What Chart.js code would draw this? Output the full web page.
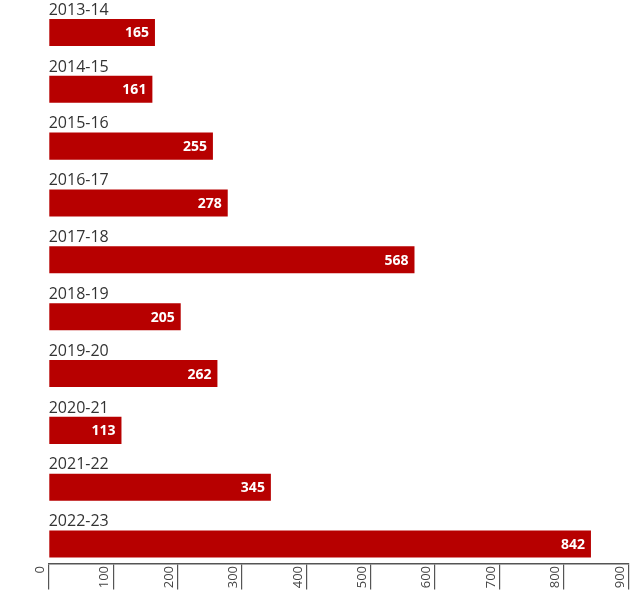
<!DOCTYPE html>
<html>
<head>
<meta charset="utf-8">
<script src="https://cdn.jsdelivr.net/npm/chart.js@4"></script>
<style>
  html, body { margin: 0; padding: 0; background: #ffffff; }
  #wrap { width: 640px; height: 598px; position: relative; }
</style>
</head>
<body>
<div id="wrap"><canvas id="c"></canvas></div>
<script>
const categories = ['2013-14', '2014-15', '2015-16', '2016-17', '2017-18', '2018-19', '2019-20', '2020-21', '2021-22', '2022-23'];
const values = [165, 161, 255, 278, 568, 205, 262, 113, 345, 842];
const xTickMin = 0;
const xTickMax = 900;
const xTickStep = 100;

const valueLabels = {
  id: 'valueLabels',
  afterDatasetsDraw(chart) {
    const ctx = chart.ctx;
    const meta = chart.getDatasetMeta(0);
    ctx.save();
    ctx.font = 'bold 14px "Open Sans", sans-serif';
    ctx.fillStyle = '#ffffff';
    ctx.textAlign = 'right';
    ctx.textBaseline = 'middle';
    meta.data.forEach((bar, i) => {
      ctx.fillText(String(values[i]), bar.x - 6, bar.y + 1);
    });
    ctx.restore();
  }
};

new Chart(document.getElementById('c'), {
  type: 'bar',
  data: {
    labels: categories,
    datasets: [{
      data: values,
      backgroundColor: '#b70000',
      borderWidth: 0,
      barPercentage: 0.475,
      categoryPercentage: 1
    }]
  },
  options: {
    indexAxis: 'y',
    responsive: true,
    maintainAspectRatio: false,
    animation: false,
    layout: { padding: { left: 48.7, right: 11.7, top: 3.9, bottom: 25.5 } },
    plugins: { legend: { display: false }, tooltip: { enabled: false } },
    scales: {
      y: {
        type: 'category',
        offset: true,
        grid: { display: false, drawTicks: false },
        border: { display: false },
        ticks: {
          mirror: true,
          padding: 0,
          labelOffset: -22.3,
          color: '#333333',
          font: { family: '"Open Sans", sans-serif', size: 16, lineHeight: 0.5 }
        }
      },
      x: {
        type: 'linear',
        position: { y: 9.35 },
        min: xTickMin,
        max: xTickMax,
        grid: {
          drawOnChartArea: false,
          drawTicks: true,
          tickLength: 25,
          color: '#555555',
          lineWidth: 1.2
        },
        border: { display: true, color: '#555555', width: 1.5 },
        ticks: {
          stepSize: xTickStep,
          minRotation: 90,
          maxRotation: 90,
          padding: -23,
          labelOffset: -8.5,
          color: '#444444',
          font: { family: '"Open Sans", sans-serif', size: 13 }
        }
      }
    }
  },
  plugins: [valueLabels]
});
</script>
</body>
</html>
